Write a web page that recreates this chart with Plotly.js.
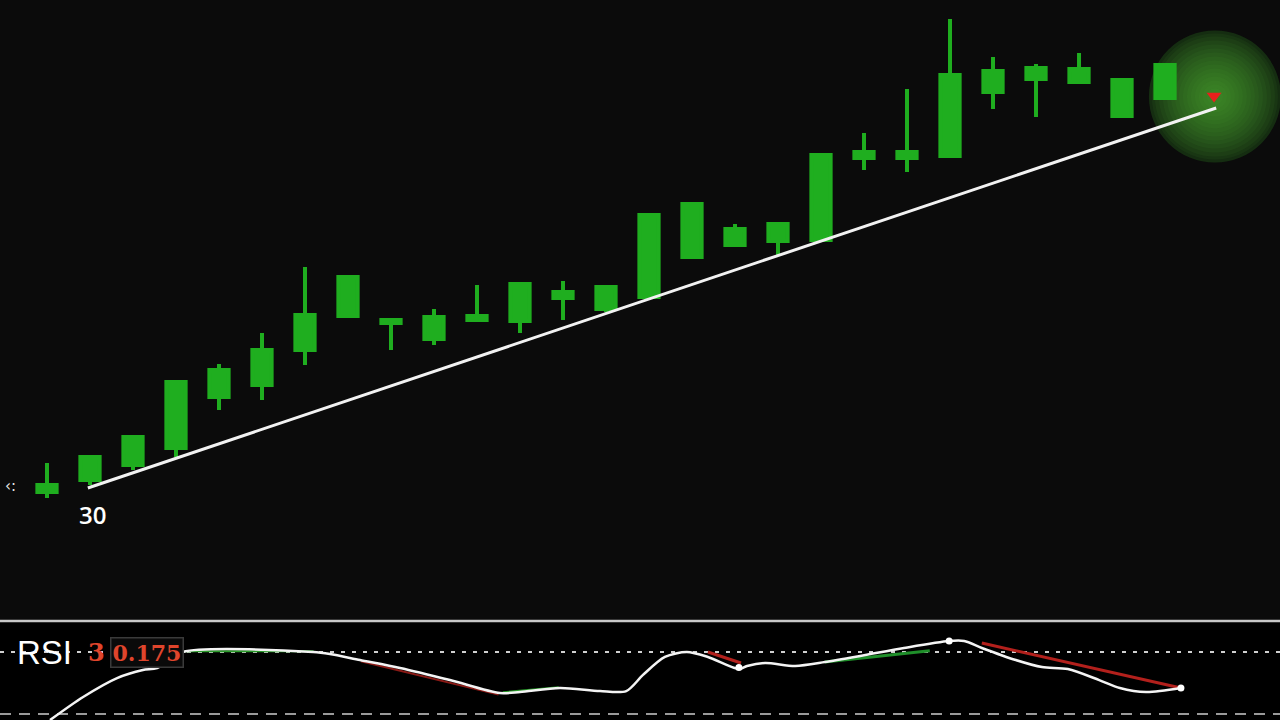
<!DOCTYPE html>
<html><head><meta charset="utf-8">
<script src="https://cdn.plot.ly/plotly-3.0.1.min.js"></script>
<style>html,body{margin:0;padding:0;background:#000;}#chart{width:1280px;height:720px;}</style>
</head><body><div id="chart"></div>
<script>
// Candles (index, open, high, low, close)
const candleX = [0,1,2,3,4,5,6,7,8,9,10,11,12,13,14,15,16,17,18,19,20,21,22,23,24,25,26];
const openV  = [128,140,155,172,223,235,270,304,297,281,300,299,322,311,323,363,375,379,380,462,462,464,528,541,538,504,522];
const highV  = [157,163,183,238,256,287,353,343,300,311,335,336,339,333,405,416,396,396,465,487,531,601,563,556,567,540,555];
const lowV   = [122,135,150,163,210,220,255,304,270,275,300,287,300,308,323,363,375,365,380,450,448,464,511,503,538,504,522];
const closeV = [135,163,183,238,250,270,305,343,300,303,304,336,328,333,405,416,391,396,465,468,468,545,549,552,551,540,555];

// Trend line
const trendX = [0.95, 27.19];
const trendY = [132, 512];

// Signal marker
const signalX = [27.14];
const signalY = [524];

// RSI
const rsiX = [0.07,0.84,1.63,2.23,2.56,3.16,6.19,6.58,7.28,8.21,9.37,10.53,11.0,11.93,12.86,13.47,13.86,14.37,14.88,15.37,16.09,16.28,16.70,17.40,18.09,18.91,19.93,20.98,21.33,21.74,22.53,23.14,23.74,24.47,24.95,25.56,26.37];
const rsiV = [26.1,41.0,53.2,58.4,59.7,70,70,68.7,64.8,59.7,51.9,43.5,44.2,46.8,44.8,44.8,55.2,66.8,70,66.8,59.0,61.0,62.9,61.0,63.5,67.4,72.6,77.1,77.1,72.6,64.8,60.3,59.0,51.9,46.8,44.2,46.8];
const rsiDotX = [16.09, 20.98, 26.37];
const rsiDotV = [60.0, 77.1, 46.8];
const redSegX1 = [15.37, 16.14];  const redSegV1 = [70, 62.9];
const redSegX2 = [21.74, 26.37];  const redSegV2 = [75.8, 46.8];
const redSegX3 = [7.3, 10.5];     const redSegV3 = [64.0, 42.5];
const greenSegX1 = [18.09, 20.53]; const greenSegV1 = [63.5, 70.8];
const greenSegX2 = [3.2, 6.2];     const greenSegV2 = [70.5, 70.5];
const greenSegX3 = [10.6, 11.9];   const greenSegV3 = [44.0, 47.2];
const rsiUpper = 70, rsiLower = 30;
const rsiLabel = "RSI";
const rsiValue1 = "3";
const rsiValue2 = "0.175";
const levelLabel = "30";

const green = '#1fae1f';
const traces = [
  {type:'candlestick', x:candleX, open:openV, high:highV, low:lowV, close:closeV,
   xaxis:'x', yaxis:'y', whiskerwidth:0,
   increasing:{line:{color:green,width:4}, fillcolor:green},
   decreasing:{line:{color:green,width:4}, fillcolor:green},
   hoverinfo:'skip', showlegend:false},
  {type:'scatter', mode:'lines', x:trendX, y:trendY, xaxis:'x', yaxis:'y',
   line:{color:'#f2f2f2', width:3}, hoverinfo:'skip', showlegend:false},
  {type:'scatter', mode:'markers', x:signalX, y:signalY, xaxis:'x', yaxis:'y',
   marker:{symbol:'triangle-down', size:13, color:'#e8201c'}, hoverinfo:'skip', showlegend:false},
  // RSI colored segments (under line)
  {type:'scatter', mode:'lines', x:redSegX1, y:redSegV1, xaxis:'x', yaxis:'y2', line:{color:'#b3201c', width:3}, showlegend:false, hoverinfo:'skip'},
  {type:'scatter', mode:'lines', x:redSegX2, y:redSegV2, xaxis:'x', yaxis:'y2', line:{color:'#b3201c', width:3}, showlegend:false, hoverinfo:'skip'},
  {type:'scatter', mode:'lines', x:redSegX3, y:redSegV3, xaxis:'x', yaxis:'y2', line:{color:'#8a1a16', width:2}, showlegend:false, hoverinfo:'skip'},
  {type:'scatter', mode:'lines', x:greenSegX1, y:greenSegV1, xaxis:'x', yaxis:'y2', line:{color:'#1f8f2a', width:3}, showlegend:false, hoverinfo:'skip'},
  {type:'scatter', mode:'lines', x:greenSegX2, y:greenSegV2, xaxis:'x', yaxis:'y2', line:{color:'#2a9a2a', width:2}, showlegend:false, hoverinfo:'skip'},
  {type:'scatter', mode:'lines', x:greenSegX3, y:greenSegV3, xaxis:'x', yaxis:'y2', line:{color:'#2a9a2a', width:2}, showlegend:false, hoverinfo:'skip'},
  {type:'scatter', mode:'lines', x:rsiX, y:rsiV, xaxis:'x', yaxis:'y2',
   line:{color:'#f4f4f4', width:2.5, shape:'spline', smoothing:0.8}, showlegend:false, hoverinfo:'skip'},
  {type:'scatter', mode:'markers', x:rsiDotX, y:rsiDotV, xaxis:'x', yaxis:'y2',
   marker:{color:'#ffffff', size:7}, showlegend:false, hoverinfo:'skip'}
];

// glow circle around signal
const shapes = [
  {type:'rect', xref:'paper', yref:'paper', x0:0, x1:1, y0:0.1389, y1:1, fillcolor:'#0b0b0b', line:{width:0}, layer:'below'},
  {type:'line', xref:'paper', yref:'paper', x0:0, x1:1, y0:0.1375, y1:0.1375, line:{color:'#c8c8c8', width:2.5}},
  {type:'line', xref:'paper', yref:'y2', x0:0, x1:1, y0:rsiUpper, y1:rsiUpper, line:{color:'#d0d0d0', width:2, dash:'4px,7px'}, layer:'below'},
  {type:'line', xref:'paper', yref:'y2', x0:0, x1:1, y0:rsiLower, y1:rsiLower, line:{color:'#9a9a9a', width:2, dash:'11px,8px'}, layer:'below'}
];
const gcx = signalX[0] + 0.02, gcy = signalY[0] - 0.5;
const radii = [66, 63, 60, 56, 52, 48, 44, 40, 36, 32, 28, 24, 20, 16, 12, 8];
radii.forEach(function(r, i){
  const rx = r / 43.0;
  shapes.push({type:'circle', xref:'x', yref:'y', x0:gcx-rx, x1:gcx+rx, y0:gcy-r, y1:gcy+r,
    fillcolor: i === 0 ? 'rgba(40,110,30,0.35)' : 'rgba(80,180,50,0.075)', line:{width:0}, layer:'below'});
});

const layout = {
  width:1280, height:720,
  margin:{l:0, r:0, t:0, b:0},
  paper_bgcolor:'#000000', plot_bgcolor:'rgba(0,0,0,0)',
  showlegend:false, boxgap:0.36,
  xaxis:{range:[-1.093, 28.674], showgrid:false, zeroline:false, showticklabels:false, showline:false,
         rangeslider:{visible:false}, anchor:'y2', fixedrange:true},
  yaxis:{domain:[0.1389, 1], range:[0, 620], showgrid:false, zeroline:false, showticklabels:false, fixedrange:true},
  yaxis2:{domain:[0, 0.1361], range:[26.13, 89.35], showgrid:false, zeroline:false, showticklabels:false, fixedrange:true},
  shapes: shapes,
  annotations:[
    {xref:'x', yref:'y', x:1.05, y:105, text:levelLabel, showarrow:false,
     font:{family:'Open Sans, Noto Sans, sans-serif', size:24, color:'#ffffff', weight:600}},
    {xref:'paper', yref:'paper', x:3/1280, y:(720-486)/720, xanchor:'left', yanchor:'middle', text:'‹:', showarrow:false,
     font:{family:'DejaVu Sans', size:15, color:'#e8e8e8'}},
    {xref:'paper', yref:'paper', x:15/1280, y:(720-652)/720, xanchor:'left', yanchor:'middle', text:rsiLabel, showarrow:false,
     font:{family:'Liberation Sans Narrow, Liberation Sans, sans-serif', size:33, color:'#ffffff'}},
    {xref:'paper', yref:'paper', x:86/1280, y:(720-652)/720, xanchor:'left', yanchor:'middle', text:rsiValue1, showarrow:false,
     font:{family:'DejaVu Serif, serif', size:24, color:'#e0452c', weight:'bold'}},
    {xref:'paper', yref:'paper', x:110/1280, y:(720-652)/720, xanchor:'left', yanchor:'middle', text:rsiValue2, showarrow:false,
     bordercolor:'#3a3a3a', borderwidth:1.5, borderpad:1, bgcolor:'#0a0a0a',
     font:{family:'DejaVu Serif, serif', size:22, color:'#e0452c', weight:'bold'}}
  ]
};
Plotly.newPlot('chart', traces, layout, {displayModeBar:false, staticPlot:true});
</script></body></html>
